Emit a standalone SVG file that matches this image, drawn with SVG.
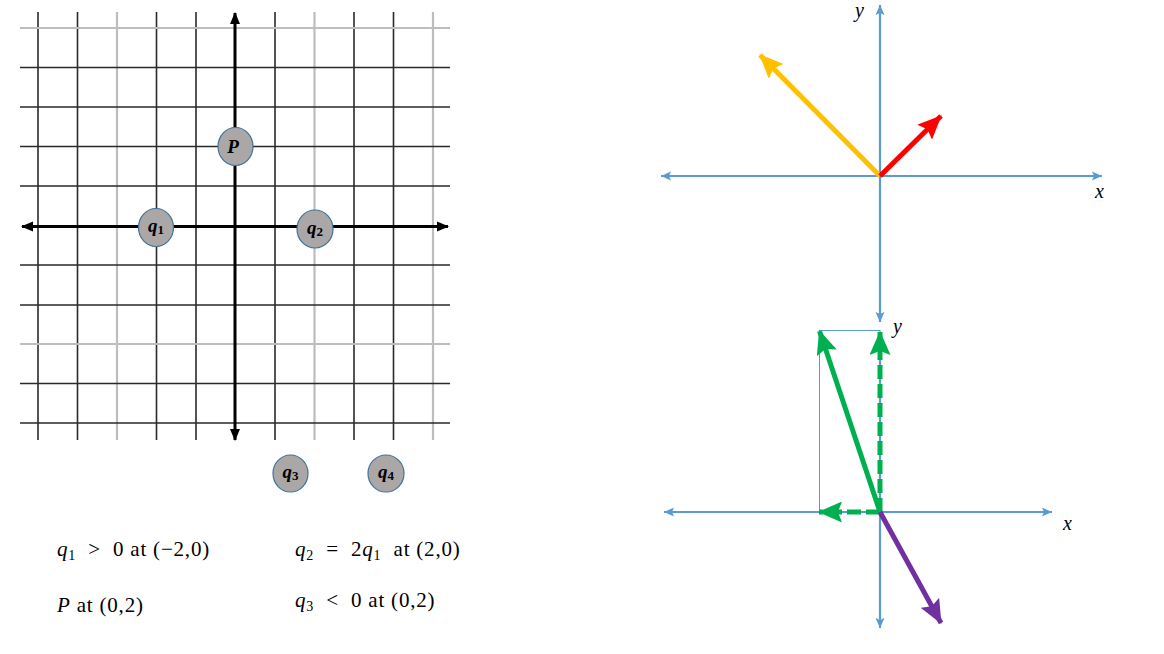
<svg xmlns="http://www.w3.org/2000/svg" width="1164" height="654" viewBox="0 0 1164 654">
<style>
.g{stroke:#2a2a2a;stroke-width:1.6;fill:none}
.gl{stroke:#bdbdbd;stroke-width:2.2;fill:none}
.ax{stroke:#000;stroke-width:3;fill:none}
.node{fill:#ABA7A7;stroke:#41719C;stroke-width:1.2}
.nl{font-family:"Liberation Serif",serif;font-style:italic;font-weight:bold;font-size:19px;fill:#000}
.eq{font-family:"Liberation Serif",serif;font-size:21px;letter-spacing:0.8px;fill:#000}
.bl{stroke:#5B9BD5;stroke-width:2.2;fill:none}
.lab{font-family:"Liberation Serif",serif;font-style:italic;font-size:20px;fill:#000}
</style>
<defs>
<marker id="ak" markerUnits="userSpaceOnUse" markerWidth="12" markerHeight="12" refX="11" refY="5" orient="auto-start-reverse" viewBox="0 0 12 10"><path d="M0,0 L12,5 L0,10 Z" fill="#000"/></marker>
<marker id="ab" markerUnits="userSpaceOnUse" markerWidth="10" markerHeight="10" refX="10" refY="4.5" orient="auto-start-reverse" viewBox="0 0 10 9"><path d="M0,0 L10,4.5 L0,9 L2,4.5 Z" fill="#5B9BD5"/></marker>
<marker id="ay" markerUnits="userSpaceOnUse" markerWidth="24" markerHeight="21" refX="23" refY="10.5" orient="auto" viewBox="0 0 24 21"><path d="M0,0 L24,10.5 L0,21 L4,10.5 Z" fill="#FFC000"/></marker>
<marker id="ar" markerUnits="userSpaceOnUse" markerWidth="24" markerHeight="21" refX="23" refY="10.5" orient="auto" viewBox="0 0 24 21"><path d="M0,0 L24,10.5 L0,21 L4,10.5 Z" fill="#FF0000"/></marker>
<marker id="ag" markerUnits="userSpaceOnUse" markerWidth="24" markerHeight="21" refX="23" refY="10.5" orient="auto" viewBox="0 0 24 21"><path d="M0,0 L24,10.5 L0,21 L4,10.5 Z" fill="#00B050"/></marker>
<marker id="ap" markerUnits="userSpaceOnUse" markerWidth="24" markerHeight="21" refX="23" refY="10.5" orient="auto" viewBox="0 0 24 21"><path d="M0,0 L24,10.5 L0,21 L4,10.5 Z" fill="#7030A0"/></marker>
</defs>
<g id="grid">
<path class="g" d="M38,12V440M77.5,12V440M156.5,12V440M196,12V440M275,12V440M354,12V440M393.5,12V440"/>
<path class="gl" d="M117,12V440M314.5,12V440M433,12V440"/>
<path class="g" d="M20,67.5H450M20,107H450M20,146.5H450M20,186H450M20,265H450M20,305H450M20,383.5H450M20,423H450"/>
<path class="gl" d="M20,28H450M20,344H450"/>
</g>
<g id="connectors">
<line class="ax" x1="22" y1="226.5" x2="448" y2="226.5" marker-start="url(#ak)" marker-end="url(#ak)"/>
<line class="ax" x1="235" y1="13" x2="235" y2="440" marker-start="url(#ak)" marker-end="url(#ak)"/>
<line class="bl" x1="661" y1="176" x2="1102" y2="176" marker-start="url(#ab)" marker-end="url(#ab)"/>
<line class="bl" x1="880" y1="5" x2="880" y2="322" marker-start="url(#ab)" marker-end="url(#ab)"/>
<line class="bl" x1="664" y1="512" x2="1052" y2="512" marker-start="url(#ab)" marker-end="url(#ab)"/>
<line class="bl" x1="880" y1="512" x2="880" y2="628" marker-end="url(#ab)"/>
<line class="bl" x1="880" y1="332" x2="880" y2="512"/>
<rect x="819.5" y="330.5" width="60.5" height="181.5" fill="none" stroke="#5B9BD5" stroke-width="1"/>
<line x1="880" y1="176" x2="760" y2="55" stroke="#FFC000" stroke-width="5" marker-end="url(#ay)"/>
<line x1="880" y1="176" x2="941" y2="116" stroke="#FF0000" stroke-width="5" marker-end="url(#ar)"/>
<line x1="880" y1="512" x2="819.5" y2="331" stroke="#00B050" stroke-width="5" marker-end="url(#ag)"/>
<line x1="880" y1="512" x2="880" y2="332" stroke="#00B050" stroke-width="5" stroke-dasharray="14,5" marker-end="url(#ag)"/>
<line x1="880" y1="512" x2="819" y2="512" stroke="#00B050" stroke-width="5" stroke-dasharray="14,5" marker-end="url(#ag)"/>
<line x1="880" y1="512" x2="941" y2="623" stroke="#7030A0" stroke-width="5" marker-end="url(#ap)"/>
</g>
<g id="P"><ellipse class="node" cx="235.5" cy="146.5" rx="17.5" ry="19"/><text class="nl" x="233" y="152.5" text-anchor="middle">P</text></g>
<g id="q1"><ellipse class="node" cx="156" cy="227.5" rx="17.5" ry="19"/><text class="nl" x="156" y="232" text-anchor="middle">q<tspan font-size="13" font-style="normal" dy="2">1</tspan></text></g>
<g id="q2"><ellipse class="node" cx="315" cy="229" rx="18" ry="19"/><text class="nl" x="315" y="233.5" text-anchor="middle">q<tspan font-size="13" font-style="normal" dy="2">2</tspan></text></g>
<g id="q3"><ellipse class="node" cx="290.5" cy="473.5" rx="17.5" ry="18.5"/><text class="nl" x="290.5" y="478" text-anchor="middle">q<tspan font-size="13" font-style="normal" dy="2">3</tspan></text></g>
<g id="q4"><ellipse class="node" cx="386" cy="473.5" rx="18" ry="18.5"/><text class="nl" x="386" y="478" text-anchor="middle">q<tspan font-size="13" font-style="normal" dy="2">4</tspan></text></g>
<g id="labels">
<text class="eq" x="57" y="556" xml:space="preserve"><tspan font-style="italic">q</tspan><tspan font-size="14" dy="4">1</tspan><tspan dy="-4">  &gt;  0 at (−2,0)</tspan></text>
<text class="eq" x="295" y="556" xml:space="preserve"><tspan font-style="italic">q</tspan><tspan font-size="14" dy="4">2</tspan><tspan dy="-4">  =  2</tspan><tspan font-style="italic">q</tspan><tspan font-size="14" dy="4">1</tspan><tspan dy="-4">  at (2,0)</tspan></text>
<text class="eq" x="57" y="612"><tspan font-style="italic">P</tspan> at (0,2)</text>
<text class="eq" x="295" y="607" xml:space="preserve"><tspan font-style="italic">q</tspan><tspan font-size="14" dy="4">3</tspan><tspan dy="-4">  &lt;  0 at (0,2)</tspan></text>
<text class="lab" x="855" y="17">y</text>
<text class="lab" x="1095" y="198">x</text>
<text class="lab" x="893" y="333">y</text>
<text class="lab" x="1063" y="530">x</text>
</g>
</svg>
